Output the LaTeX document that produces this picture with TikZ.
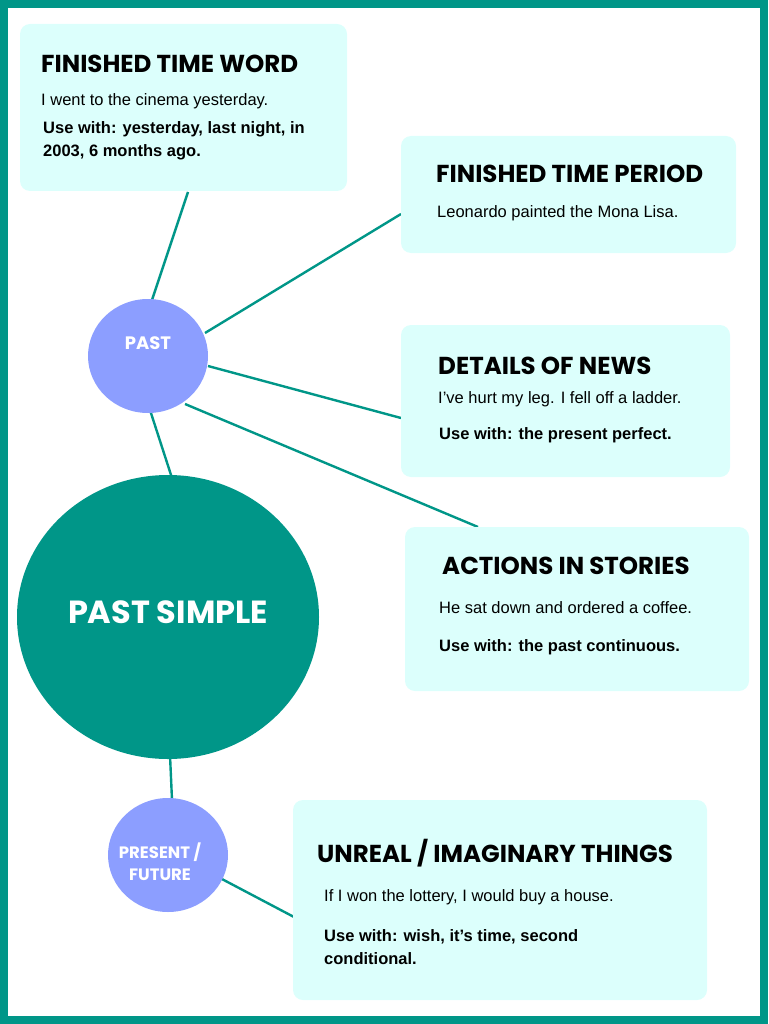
\documentclass[tikz,border=0pt]{standalone}
\usepackage{fontspec}
\setmainfont{Liberation Sans}
\newfontfamily\titlefont{Poppins}
\definecolor{teal}{RGB}{0,150,136}
\definecolor{boxc}{RGB}{220,255,252}
\definecolor{bub}{RGB}{140,158,255}
\begin{document}
\begin{tikzpicture}[x=1pt,y=-1pt,
  card/.style={fill=boxc,draw=none,rounded corners=10pt},
  ttl/.style={anchor=west,inner sep=0pt,font=\titlefont\bfseries\fontsize{24.5}{28}\selectfont},
  txt/.style={anchor=west,inner sep=0pt,font=\fontsize{16.5}{20}\selectfont},
  use/.style={anchor=north west,inner sep=0pt,font=\bfseries\fontsize{16.5}{23}\selectfont,align=left},
  link/.style={draw=teal,line width=2.4pt}]
\useasboundingbox (0,0) rectangle (768,1024);
\draw[teal,line width=8pt] (4,4) rectangle (764,1020);
% lines
\coordinate (a1) at (188,192); \coordinate (a2) at (152,300);
\draw[link] (a1)--(a2);
\coordinate (b1) at (205,333); \coordinate (b2) at (401,214); \draw[link] (b1)--(b2);
\coordinate (c1) at (208,366); \coordinate (c2) at (401,418); \draw[link] (c1)--(c2);
\coordinate (d1) at (185,404); \coordinate (d2) at (478,527); \draw[link] (d1)--(d2);
\coordinate (e1) at (150,410); \coordinate (e2) at (172,478); \draw[link] (e1)--(e2);
\coordinate (f1) at (170,755); \coordinate (f2) at (172,800); \draw[link] (f1)--(f2);
\coordinate (g1) at (220,878); \coordinate (g2) at (294,917); \draw[link] (g1)--(g2);
% boxes
\path[card] (20,24) rectangle (347,191);
\path[card] (401,136) rectangle (736,253);
\path[card] (401,325) rectangle (730,477);
\path[card] (405,527) rectangle (749,691);
\path[card] (293,800) rectangle (707,1000);
% circles
\fill[bub] (148,356) ellipse [x radius=60pt,y radius=57pt];
\node[font=\titlefont\bfseries\fontsize{18}{20}\selectfont,text=white] (pastl) at (148,343) {PAST};
\fill[teal] (168,617) ellipse [x radius=151pt,y radius=142pt];
\node[font=\titlefont\bfseries\fontsize{32}{36}\selectfont,text=white] (ps) at (168,612) {PAST SIMPLE};
\fill[bub] (168,855) ellipse [x radius=60pt,y radius=57pt];
\node[font=\titlefont\bfseries\fontsize{16.5}{22}\selectfont,text=white,align=center] (pf) at (160,862) {PRESENT /\\FUTURE};
% texts
\node[ttl] (t1) at (41,64) {FINISHED TIME WORD};
\node[txt] (s1) at (41,101) {I went to the cinema yesterday.};
\node[use] (u1) at (43,121) {Use with: yesterday, last night, in\\2003, 6 months ago.};
\node[ttl] (t2) at (436,174) {FINISHED TIME PERIOD};
\node[txt] (s2) at (437,213) {Leonardo painted the Mona Lisa.};
\node[ttl] (t3) at (438,366) {DETAILS OF NEWS};
\node[txt] (s3) at (438,399) {I've hurt my leg. I fell off a ladder.};
\node[use] (u3) at (439,427) {Use with: the present perfect.};
\node[ttl] (t4) at (442,566) {ACTIONS IN STORIES};
\node[txt] (s4) at (439,608) {He sat down and ordered a coffee.};
\node[use] (u4) at (439,639) {Use with: the past continuous.};
\node[ttl] (t5) at (317,853) {UNREAL / IMAGINARY THINGS};
\node[txt] (s5) at (324,897) {If I won the lottery, I would buy a house.};
\node[use] (u5) at (324,929) {Use with: wish, it's time, second\\conditional.};
\end{tikzpicture}
\end{document}
